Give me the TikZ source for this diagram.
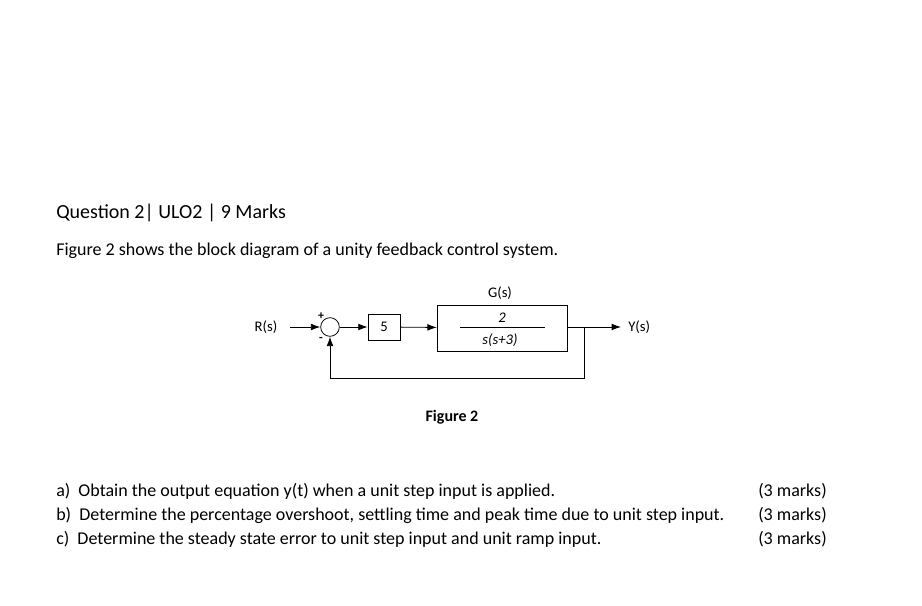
\documentclass[tikz,border=0pt]{standalone}
\usepackage{fontspec}
\setmainfont{Carlito}
\usetikzlibrary{arrows.meta}
\begin{document}
\begin{tikzpicture}[x=0.75pt,y=-0.75pt,
  blk/.style={draw,line width=0.6pt,inner sep=0pt},
  lbl/.style={font=\fontsize{11}{13}\selectfont,inner sep=0pt},
  txt/.style={font=\fontsize{13.5}{16}\selectfont,inner sep=0pt,anchor=west},
  sig/.style={line width=0.6pt,-{Latex[length=7pt,width=5pt]}}]
\useasboundingbox[fill=white] (0,0) rectangle (922,606);
\node[txt,font=\fontsize{15}{18}\selectfont] (t1) at (56,213) {Question 2| ULO2 | 9 Marks};
\node[txt] (t2) at (56,251) {Figure 2 shows the block diagram of a unity feedback control system.};
\node[lbl] (r) at (266,327) {R(s)};
\coordinate (rs) at (290,327);
\node[draw,circle,minimum size=14pt,inner sep=0pt,line width=0.6pt] (sum) at (330,327) {};
\node[lbl,font=\fontsize{9}{10}\selectfont\bfseries] (p) at (321,316) {+};
\node[lbl,font=\fontsize{9}{10}\selectfont\bfseries] (m) at (321,339) {-};
\node[blk,minimum width=24pt,minimum height=19.5pt] (k) at (384,327) {\fontsize{11}{13}\selectfont 5};
\node[blk,minimum width=98pt,minimum height=34.5pt] (g) at (502.5,328) {};
\node[lbl] (gl) at (500,293) {G(s)};
\node[lbl] (num) at (502,318) {\itshape 2};
\node[lbl] (den) at (500,340) {\itshape s(s+3)};
\draw[line width=0.5pt] (460,327) -- (545,327);
\node[lbl,anchor=west] (y) at (628,327) {Y(s)};
\coordinate (tap) at (584,327);
\coordinate (ye) at (621,327);
\coordinate (bl) at (330,378);
\coordinate (br) at (584,378);
\draw[sig] (rs) -- (sum);
\draw[sig] (sum) -- (k);
\draw[sig] (k) -- (g);
\draw[sig] (g.east |- tap) -- (ye);
\draw[sig] (tap) -- (br) -- (bl) -- (sum);
\node[lbl,font=\fontsize{12}{14}\selectfont\bfseries] (f2) at (452,417) {Figure 2};
\node[txt] (a) at (56,491) {a)\ \ Obtain the output equation y(t) when a unit step input is applied.};
\node[txt] (b) at (56,515) {b)\ \ Determine the percentage overshoot, settling time and peak time due to unit step input.};
\node[txt] (c) at (56,539) {c)\ \ Determine the steady state error to unit step input and unit ramp input.};
\node[txt] (ma) at (758,491) {(3 marks)};
\node[txt] (mb) at (758,515) {(3 marks)};
\node[txt] (mc) at (758,539) {(3 marks)};
\end{tikzpicture}
\end{document}
